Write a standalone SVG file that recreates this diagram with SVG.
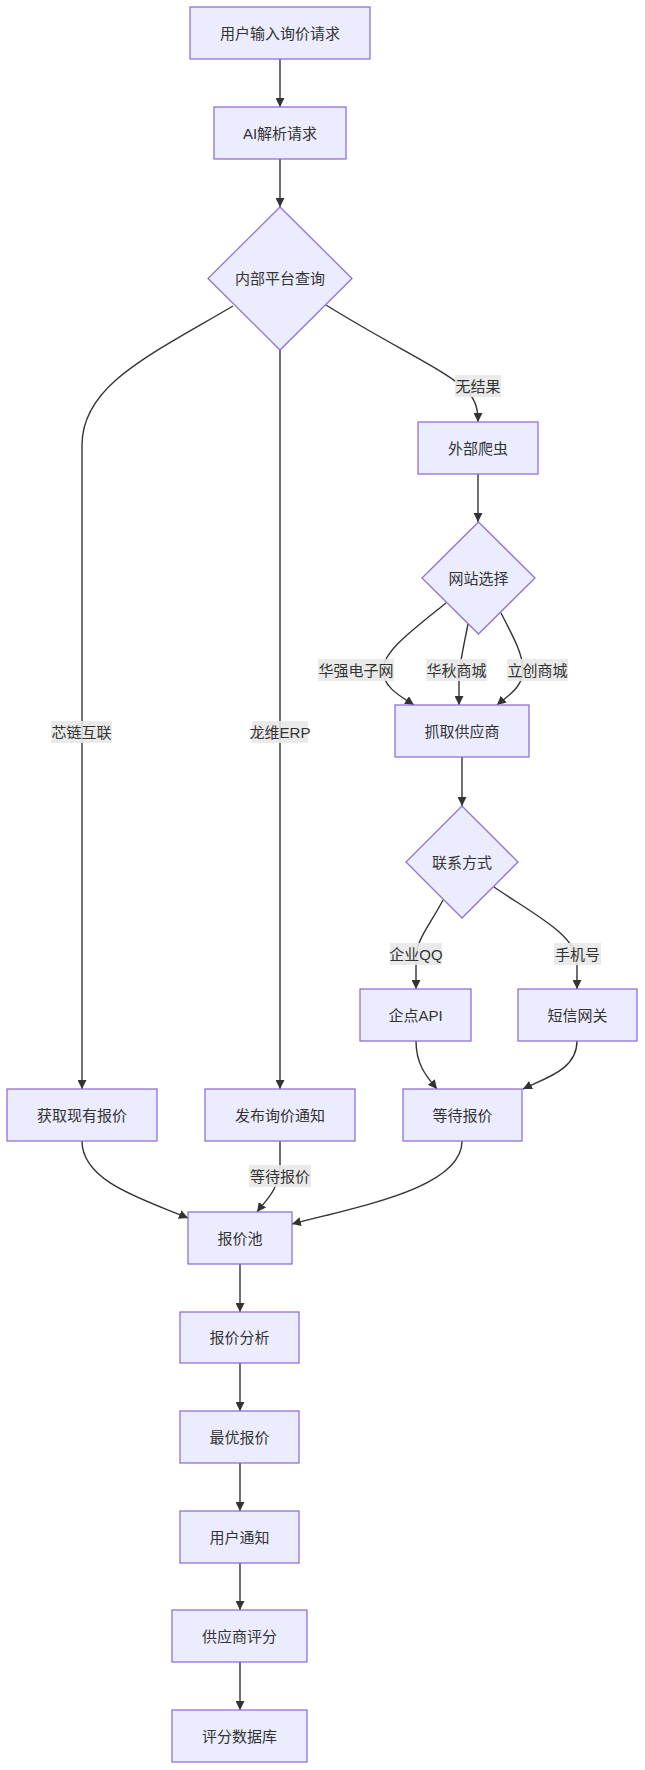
<svg xmlns="http://www.w3.org/2000/svg" width="645" height="1770" viewBox="0 0 645 1770">
<style>
.node rect,.node polygon{fill:#ECECFF;stroke:#9370DB;stroke-width:1.3}
.node text{font-family:"Liberation Sans","Noto Sans CJK SC",sans-serif;font-size:15px;fill:#333;text-anchor:middle;dominant-baseline:central}
.edges path{fill:none;stroke:#333;stroke-width:1.4;marker-end:url(#arr)}
.lbl rect{fill:#e8e8e8;opacity:0.9}
.lbl text{font-family:"Liberation Sans","Noto Sans CJK SC",sans-serif;font-size:15px;fill:#333;text-anchor:middle;dominant-baseline:central}
</style>
<defs>
<marker id="arr" viewBox="0 0 10 10" refX="10" refY="5" markerUnits="userSpaceOnUse" markerWidth="9" markerHeight="9" orient="auto">
<path d="M0,0 L10,5 L0,10 z" fill="#333"/>
</marker>
</defs>
<rect width="645" height="1770" fill="#fff"/>
<g id="connectors" class="edges">
<path d="M280,59 L280,107"/>
<path d="M280,159 L280,207"/>
<path d="M233,306 C150,355 82,385 82,445 L82,1089"/>
<path d="M280,350 L280,1089"/>
<path d="M326,305 C395,348 450,372 468,392 C477,402 478,412 478,422"/>
<path d="M478,474 L478,522"/>
<path d="M446,603 C410,632 383,652 383,670 C383,688 402,697 414,705"/>
<path d="M468,624 C464,645 459,665 459,680 L459,705"/>
<path d="M501,613 C514,638 523,655 523,670 C523,688 506,697 497,705"/>
<path d="M462,757 L462,806"/>
<path d="M443,900 C430,925 416,940 416,958 L416,989"/>
<path d="M494,887 C530,912 577,935 577,962 L577,989"/>
<path d="M416,1041 C416,1066 428,1078 437,1089"/>
<path d="M577,1041 C577,1070 545,1078 523,1089"/>
<path d="M82,1141 C82,1182 145,1200 188,1218"/>
<path d="M280,1141 L280,1166 C279,1190 266,1200 257,1212"/>
<path d="M462,1141 C462,1188 360,1206 292,1224"/>
<path d="M240,1264 L240,1312"/>
<path d="M240,1363 L240,1411"/>
<path d="M240,1463 L240,1511"/>
<path d="M240,1563 L240,1610"/>
<path d="M240,1662 L240,1710"/>
</g>
<g id="edge-labels">
<g class="lbl"><rect x="455" y="375" width="46" height="22"/><text x="478" y="386">无结果</text></g>
<g class="lbl"><rect x="51" y="721" width="61" height="22"/><text x="81.5" y="732">芯链互联</text></g>
<g class="lbl"><rect x="252" y="721" width="56" height="22"/><text x="280" y="732">龙维ERP</text></g>
<g class="lbl"><rect x="318" y="659" width="76" height="22"/><text x="356" y="670">华强电子网</text></g>
<g class="lbl"><rect x="426" y="659" width="61" height="22"/><text x="456.5" y="670">华秋商城</text></g>
<g class="lbl"><rect x="507" y="659" width="61" height="22"/><text x="537.5" y="670">立创商城</text></g>
<g class="lbl"><rect x="390" y="943" width="52" height="22"/><text x="416" y="954">企业QQ</text></g>
<g class="lbl"><rect x="554" y="943" width="47" height="22"/><text x="577.5" y="954">手机号</text></g>
<g class="lbl"><rect x="249" y="1165" width="62" height="22"/><text x="280" y="1176">等待报价</text></g>
</g>
<g id="n1" class="node"><rect x="190" y="7" width="180" height="52"/><text x="280" y="33">用户输入询价请求</text></g>
<g id="n2" class="node"><rect x="214" y="107" width="132" height="52"/><text x="280" y="133">AI解析请求</text></g>
<g id="n3" class="node"><polygon points="280,207 352,278.5 280,350 208,278.5"/><text x="280" y="278.5">内部平台查询</text></g>
<g id="n4" class="node"><rect x="418" y="422" width="120" height="52"/><text x="478" y="448">外部爬虫</text></g>
<g id="n5" class="node"><polygon points="478.5,522 535,578 478.5,634 422,578"/><text x="478.5" y="578">网站选择</text></g>
<g id="n6" class="node"><rect x="395" y="705" width="134" height="52"/><text x="462" y="731">抓取供应商</text></g>
<g id="n7" class="node"><polygon points="462,806 518,862 462,918 406,862"/><text x="462" y="862">联系方式</text></g>
<g id="n8" class="node"><rect x="360" y="989" width="111" height="52"/><text x="415.5" y="1015">企点API</text></g>
<g id="n9" class="node"><rect x="518" y="989" width="119" height="52"/><text x="577.5" y="1015">短信网关</text></g>
<g id="n10" class="node"><rect x="403" y="1089" width="119" height="52"/><text x="462.5" y="1115">等待报价</text></g>
<g id="n11" class="node"><rect x="7" y="1089" width="150" height="52"/><text x="82" y="1115">获取现有报价</text></g>
<g id="n12" class="node"><rect x="205" y="1089" width="150" height="52"/><text x="280" y="1115">发布询价通知</text></g>
<g id="n13" class="node"><rect x="188" y="1212" width="104" height="52"/><text x="240" y="1238">报价池</text></g>
<g id="n14" class="node"><rect x="180" y="1312" width="119" height="51"/><text x="239.5" y="1337.5">报价分析</text></g>
<g id="n15" class="node"><rect x="180" y="1411" width="119" height="52"/><text x="239.5" y="1437">最优报价</text></g>
<g id="n16" class="node"><rect x="180" y="1511" width="119" height="52"/><text x="239.5" y="1537">用户通知</text></g>
<g id="n17" class="node"><rect x="172" y="1610" width="135" height="52"/><text x="239.5" y="1636">供应商评分</text></g>
<g id="n18" class="node"><rect x="172" y="1710" width="135" height="52"/><text x="239.5" y="1736">评分数据库</text></g>
</svg>
